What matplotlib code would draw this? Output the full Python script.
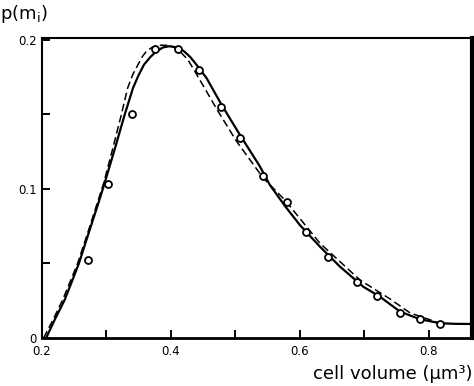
import matplotlib
matplotlib.use("Agg")
import matplotlib.pyplot as plt
from matplotlib.ticker import MultipleLocator, FuncFormatter

# measured points (open circles)
volume_pts = [0.271, 0.302, 0.339, 0.376, 0.411, 0.443, 0.477, 0.507, 0.543,
              0.580, 0.609, 0.643, 0.689, 0.719, 0.755, 0.786, 0.817]
p_pts = [0.052, 0.1034, 0.150, 0.194, 0.1937, 0.180, 0.155, 0.134, 0.109,
         0.0915, 0.071, 0.0546, 0.0378, 0.0284, 0.017, 0.0125, 0.0092]

# solid curve
solid_x = [0.2064, 0.2200, 0.2351, 0.2460, 0.2573, 0.2739, 0.2860, 0.2972, 0.3130,
           0.3283, 0.3412, 0.3500, 0.3582, 0.3680, 0.3775, 0.3880, 0.3981,
           0.4085, 0.4200, 0.4300, 0.4396, 0.4551, 0.4784, 0.5068, 0.5379, 0.5534,
           0.5770, 0.6000, 0.6311, 0.6621, 0.6983, 0.7242, 0.7553, 0.7863, 0.8174,
           0.8400, 0.8670]
solid_y = [0.0000, 0.0125, 0.0255, 0.0375, 0.0501, 0.0725, 0.0885, 0.1040, 0.1270,
           0.1499, 0.1678, 0.1765, 0.1834, 0.1885, 0.1924, 0.1950, 0.1958,
           0.1950, 0.1925, 0.1885, 0.1834, 0.1745, 0.1566, 0.1364, 0.1152, 0.1027,
           0.0885, 0.0758, 0.0613, 0.0479, 0.0344, 0.0277, 0.0177, 0.0126, 0.0099,
           0.0095, 0.0094]

# dashed curve
dash_x = [0.2025, 0.2180, 0.2320, 0.2553, 0.2724, 0.2957, 0.3100, 0.3231, 0.3329,
          0.3410, 0.3489, 0.3560, 0.3620, 0.3700, 0.3775, 0.3860, 0.3950, 0.4050,
          0.4137, 0.4261, 0.4370, 0.4731, 0.5017, 0.5430, 0.5767, 0.6311, 0.6932,
          0.7398, 0.7710, 0.8174]
dash_y = [0.0000, 0.0130, 0.0255, 0.0501, 0.0725, 0.1040, 0.1275, 0.1499, 0.1678,
          0.1770, 0.1834, 0.1890, 0.1924, 0.1948, 0.1960, 0.1965, 0.1963, 0.1950,
          0.1924, 0.1868, 0.1790, 0.1521, 0.1320, 0.1074, 0.0926, 0.0636, 0.0389,
          0.0262, 0.0168, 0.0099]

x_labels = {0.2: "0.2", 0.4: "0.4", 0.6: "0.6", 0.8: "0.8"}
y_labels = {0.0: "0", 0.1: "0.1", 0.2: "0.2"}

fig = plt.figure(figsize=(4.74, 3.86), dpi=100)
ax = fig.add_axes([0.0886, 0.1244, 0.9072, 0.7772])

ax.plot(solid_x, solid_y, color='k', linewidth=1.6, solid_capstyle='round')
ax.plot(dash_x, dash_y, color='k', linewidth=1.1, linestyle=(0, (5, 2.5)))
ax.plot(volume_pts, p_pts, linestyle='none', marker='o', markersize=5,
        markerfacecolor='white', markeredgecolor='k', markeredgewidth=1.3)

ax.set_xlim(0.2, 0.867)
ax.set_ylim(0, 0.2013)

ax.xaxis.set_major_locator(MultipleLocator(0.1))
ax.yaxis.set_major_locator(MultipleLocator(0.05))
ax.xaxis.set_major_formatter(FuncFormatter(
    lambda v, pos: next((s for k, s in x_labels.items() if abs(k - v) < 1e-6), "")))
ax.yaxis.set_major_formatter(FuncFormatter(
    lambda v, pos: next((s for k, s in y_labels.items() if abs(k - v) < 1e-6), "")))
ax.tick_params(direction='in', length=6, width=1.4, labelsize=8.5, pad=4)
ax.tick_params(axis='x', pad=5)

ax.spines['left'].set_linewidth(1.5)
ax.spines['bottom'].set_linewidth(2.0)
ax.spines['top'].set_linewidth(1.5)
ax.spines['right'].set_linewidth(3.0)

fig.text(0.0, 0.963, "p(m$_\\mathregular{i}$)", fontsize=13, va='center', ha='left')
fig.text(0.996, 0.031, "cell volume (\u03bcm\u00b3)", fontsize=13, va='center', ha='right')

plt.savefig('out.png', dpi=100)
